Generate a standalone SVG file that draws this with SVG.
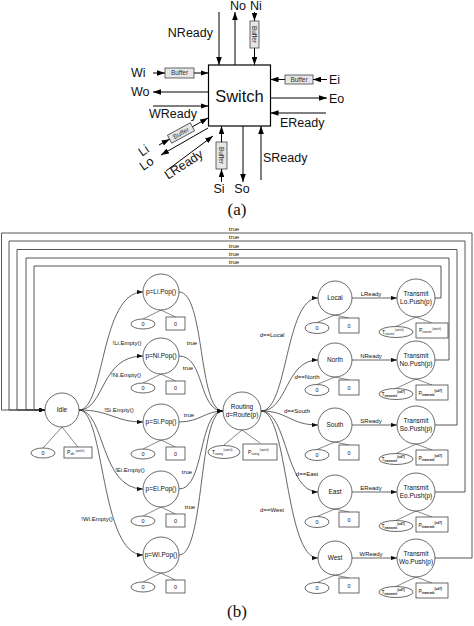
<svg xmlns="http://www.w3.org/2000/svg" width="474" height="626" viewBox="0 0 474 626">
<defs>
<marker id="a1" viewBox="0 0 10 7" refX="10" refY="3.5" markerWidth="8" markerHeight="5.6" markerUnits="userSpaceOnUse" orient="auto"><path d="M0,0 L10,3.5 L0,7 z" fill="#000"/></marker>
<marker id="a2" viewBox="0 0 10 7" refX="10" refY="3.5" markerWidth="6" markerHeight="4.2" markerUnits="userSpaceOnUse" orient="auto"><path d="M0,0 L10,3.5 L0,7 z" fill="#111"/></marker>
<style>
text{font-family:"Liberation Sans",Arial,sans-serif;fill:#111}
.A{font-size:12.5px}
.buf{fill:#e6e6e6;stroke:#444;stroke-width:0.8}
.bt{font-size:6.5px;text-anchor:middle;fill:#333}
.la{stroke:#000;stroke-width:1;fill:none;marker-end:url(#a1)}
.n{fill:#fff;stroke:#444;stroke-width:0.8}
.e{fill:none;stroke:#333;stroke-width:0.75;marker-end:url(#a2)}
.lp{fill:none;stroke:#444;stroke-width:0.9}
.c{stroke:#555;stroke-width:0.7}
.t{font-size:6.5px;text-anchor:middle}
.l{font-size:6px;text-anchor:middle}
.z{font-size:5.5px;text-anchor:middle}
.m{font-size:5px}
.s{font-size:2.6px}
.b{font-size:3.2px;font-weight:bold}
.cap{font-family:"Liberation Serif","Times New Roman",serif;font-size:17px;text-anchor:middle}
</style>
</defs>

<!-- ===== (a) switch ===== -->
<g id="switch">
<rect x="208.5" y="65" width="62" height="61" fill="#fff" stroke="#000" stroke-width="1.2"/>
<text x="239.5" y="102" font-size="16.5" text-anchor="middle">Switch</text>
</g>
<g id="buffers">
<rect class="buf" x="250" y="21" width="9" height="27"/>
<text class="bt" transform="translate(252.3,34.5) rotate(90)">Buffer</text>
<rect class="buf" x="165" y="68" width="29" height="10"/>
<text class="bt" x="179.5" y="75.3">Buffer</text>
<rect class="buf" x="285" y="75" width="28" height="9"/>
<text class="bt" x="299" y="81.8">Buffer</text>
<rect class="buf" x="216" y="142" width="11" height="27"/>
<text class="bt" transform="translate(219.3,155.5) rotate(90)">Buffer</text>
<g transform="translate(181,133) rotate(-28.5)">
<rect class="buf" x="-13" y="-4.5" width="26" height="9"/>
<text class="bt" x="0" y="2.3">Buffer</text>
</g>
</g>
<g id="a-connectors">
<line class="la" x1="235" y1="65" x2="235" y2="12"/>
<line class="la" x1="254.5" y1="12" x2="254.5" y2="21"/>
<line class="la" x1="254.5" y1="48" x2="254.5" y2="65"/>
<line class="la" x1="219" y1="12" x2="219" y2="65"/>
<line class="la" x1="153" y1="73" x2="165" y2="73"/>
<line class="la" x1="194" y1="73" x2="208.5" y2="73"/>
<line class="la" x1="208.5" y1="92" x2="153" y2="92"/>
<line class="la" x1="153" y1="106" x2="208.5" y2="106"/>
<line class="la" x1="159" y1="145" x2="169.6" y2="139.2"/>
<line class="la" x1="192.4" y1="126.8" x2="208" y2="118"/>
<line class="la" x1="208" y1="128" x2="161" y2="155"/>
<line class="la" x1="166" y1="171" x2="213" y2="136"/>
<line class="la" x1="327" y1="79.5" x2="313" y2="79.5"/>
<line class="la" x1="285" y1="79.5" x2="270.5" y2="79.5"/>
<line class="la" x1="270.5" y1="98" x2="327" y2="98"/>
<line class="la" x1="326" y1="113" x2="270.5" y2="113"/>
<line class="la" x1="221.5" y1="182" x2="221.5" y2="169"/>
<line class="la" x1="221.5" y1="142" x2="221.5" y2="126"/>
<line class="la" x1="243" y1="126" x2="243" y2="182"/>
<line class="la" x1="261" y1="180" x2="261" y2="126"/>
</g>
<g id="a-labels">
<text class="A" x="238" y="10" text-anchor="middle">No</text>
<text class="A" x="256" y="10" text-anchor="middle">Ni</text>
<text class="A" x="213" y="37" text-anchor="end">NReady</text>
<text class="A" x="131" y="77">Wi</text>
<text class="A" x="131" y="96">Wo</text>
<text class="A" x="149" y="118">WReady</text>
<text class="A" x="329" y="83.5">Ei</text>
<text class="A" x="329" y="102.5">Eo</text>
<text class="A" x="280" y="127">EReady</text>
<text class="A" x="219" y="193" text-anchor="middle">Si</text>
<text class="A" x="242" y="193" text-anchor="middle">So</text>
<text class="A" x="263" y="162">SReady</text>
<text class="A" text-anchor="middle" transform="translate(146,154) rotate(-35)">Li</text>
<text class="A" text-anchor="middle" transform="translate(149,167) rotate(-35)">Lo</text>
<text class="A" text-anchor="middle" transform="translate(186,168) rotate(-33)">LReady</text>
</g>
<text class="cap" x="237" y="215">(a)</text>

<!-- ===== (b) state machine ===== -->
<g id="connectors">
<!-- loops back to Idle -->
<path class="lp" d="M435,298 H441 V266 H34 V410 H45" marker-end="url(#a2)"/>
<path class="lp" d="M435,360 H449 V258 H26 V410 H45" marker-end="url(#a2)"/>
<path class="lp" d="M435,425 H457 V249.5 H17 V410 H45" marker-end="url(#a2)"/>
<path class="lp" d="M435,492 H465 V241 H9 V410 H45" marker-end="url(#a2)"/>
<path class="lp" d="M435,558 H472 V233 H1.5 V410 H45" marker-end="url(#a2)"/>
<!-- Idle to pops -->
<path class="e" d="M79,410 C105,410 100,292 143,292"/>
<path class="e" d="M79,410 C105,410 100,356 143,356"/>
<path class="e" d="M79,410 C110,410 115,422 143,422"/>
<path class="e" d="M79,410 C105,410 100,489 143,489"/>
<path class="e" d="M79,410 C105,410 100,555 143,555"/>
<!-- pops to Routing -->
<path class="e" d="M179,292 C205,292 198,411 223,411"/>
<path class="e" d="M179,356 C205,356 198,411 223,411"/>
<path class="e" d="M179,422 C200,422 205,411 223,411"/>
<path class="e" d="M179,489 C205,489 198,411 223,411"/>
<path class="e" d="M179,555 C205,555 198,411 223,411"/>
<!-- Routing to destinations -->
<path class="e" d="M261,411 C288,411 285,298 318,298"/>
<path class="e" d="M261,411 C288,411 285,360 318,360"/>
<path class="e" d="M261,411 C288,411 290,425 318,425"/>
<path class="e" d="M261,411 C288,411 285,492 318,492"/>
<path class="e" d="M261,411 C288,411 285,558 318,558"/>
<!-- destinations to transmit -->
<line class="e" x1="352" y1="298" x2="397" y2="298"/>
<line class="e" x1="352" y1="360" x2="397" y2="360"/>
<line class="e" x1="352" y1="425" x2="397" y2="425"/>
<line class="e" x1="352" y1="492" x2="397" y2="492"/>
<line class="e" x1="352" y1="558" x2="397" y2="558"/>
</g>

<g id="edge-labels">
<text class="l" x="234" y="231">true</text>
<text class="l" x="234" y="239">true</text>
<text class="l" x="234" y="247.5">true</text>
<text class="l" x="234" y="256">true</text>
<text class="l" x="234" y="264">true</text>
<text class="l" x="127" y="345">!Li.Empty()</text>
<text class="l" x="126" y="377">!Ni.Empty()</text>
<text class="l" x="119" y="412">!Si.Empty()</text>
<text class="l" x="130" y="472">!Ei.Empty()</text>
<text class="l" x="97" y="521">!Wi.Empty()</text>
<text class="l" x="192" y="345">true</text>
<text class="l" x="188" y="370">true</text>
<text class="l" x="189" y="417">true</text>
<text class="l" x="187" y="474">true</text>
<text class="l" x="190" y="509">true</text>
<text class="l" x="272" y="337">d==Local</text>
<text class="l" x="307" y="379">d==North</text>
<text class="l" x="297" y="413">d==South</text>
<text class="l" x="307" y="476">d==East</text>
<text class="l" x="272" y="512">d==West</text>
<text class="l" x="371" y="295.5">LReady</text>
<text class="l" x="371" y="357.5">NReady</text>
<text class="l" x="371" y="422.5">SReady</text>
<text class="l" x="371" y="489.5">EReady</text>
<text class="l" x="371" y="555.5">WReady</text>
</g>

<g id="idle">
<line class="c" x1="43" y1="448" x2="68.7" y2="419.7"/>
<line class="c" x1="78" y1="447" x2="56.4" y2="420"/>
<circle class="n" cx="62" cy="410" r="17"/>
<text class="t" x="62" y="412.3">Idle</text>
<ellipse class="n" cx="43" cy="453" rx="12" ry="5"/>
<text class="z" x="43" y="455">0</text>
<rect class="n" x="64" y="447" width="28" height="11"/>
<text class="m" x="67" y="454">P<tspan class="s" dy="1.2">idle</tspan><tspan class="s" dy="-3.4" dx="1">(switch)</tspan></text>
</g>

<g id="pop-li">
<line class="c" x1="143" y1="319" x2="167.3" y2="306.9"/>
<line class="c" x1="175.5" y1="317" x2="155.9" y2="307.6"/>
<circle class="n" cx="161" cy="292" r="18"/>
<text class="t" x="161" y="294.3">p=Li.Pop()</text>
<ellipse class="n" cx="143" cy="324" rx="12" ry="5"/>
<text class="z" x="143" y="326">0</text>
<rect class="n" x="166" y="317" width="19" height="13"/>
<text class="z" x="175.5" y="325.5">0</text>
</g>
<g id="pop-ni">
<line class="c" x1="143" y1="383" x2="167.3" y2="370.9"/>
<line class="c" x1="175.5" y1="381" x2="155.9" y2="371.6"/>
<circle class="n" cx="161" cy="356" r="18"/>
<text class="t" x="161" y="358.3">p=Ni.Pop()</text>
<ellipse class="n" cx="143" cy="388" rx="12" ry="5"/>
<text class="z" x="143" y="390">0</text>
<rect class="n" x="166" y="381" width="19" height="13"/>
<text class="z" x="175.5" y="389.5">0</text>
</g>
<g id="pop-si">
<line class="c" x1="143" y1="449" x2="167.3" y2="436.9"/>
<line class="c" x1="175.5" y1="447" x2="155.9" y2="437.6"/>
<circle class="n" cx="161" cy="422" r="18"/>
<text class="t" x="161" y="424.3">p=Si.Pop()</text>
<ellipse class="n" cx="143" cy="454" rx="12" ry="5"/>
<text class="z" x="143" y="456">0</text>
<rect class="n" x="166" y="447" width="19" height="13"/>
<text class="z" x="175.5" y="455.5">0</text>
</g>
<g id="pop-ei">
<line class="c" x1="143" y1="516" x2="167.3" y2="503.9"/>
<line class="c" x1="175.5" y1="514" x2="155.9" y2="504.6"/>
<circle class="n" cx="161" cy="489" r="18"/>
<text class="t" x="161" y="491.3">p=Ei.Pop()</text>
<ellipse class="n" cx="143" cy="521" rx="12" ry="5"/>
<text class="z" x="143" y="523">0</text>
<rect class="n" x="166" y="514" width="19" height="13"/>
<text class="z" x="175.5" y="522.5">0</text>
</g>
<g id="pop-wi">
<line class="c" x1="143" y1="582" x2="167.3" y2="569.9"/>
<line class="c" x1="175.5" y1="580" x2="155.9" y2="570.6"/>
<circle class="n" cx="161" cy="555" r="18"/>
<text class="t" x="161" y="557.3">p=Wi.Pop()</text>
<ellipse class="n" cx="143" cy="587" rx="12" ry="5"/>
<text class="z" x="143" y="589">0</text>
<rect class="n" x="166" y="580" width="19" height="13"/>
<text class="z" x="175.5" y="588.5">0</text>
</g>

<g id="routing">
<line class="c" x1="224" y1="445" x2="248.3" y2="424.8"/>
<line class="c" x1="260" y1="443" x2="235.7" y2="425.5"/>
<circle class="n" cx="242" cy="411" r="19"/>
<text class="t" x="242" y="409">Routing</text>
<text class="t" x="242" y="416.5">d=Route(p)</text>
<ellipse class="n" cx="224" cy="452" rx="16" ry="6.5"/>
<text class="m" x="212" y="453.5">T<tspan class="s" dy="1.2">routing</tspan><tspan class="s" dy="-3.4" dx="0.5">(switch)</tspan></text>
<rect class="n" x="243" y="444" width="34" height="16"/>
<text class="m" x="248" y="453.5">P<tspan class="s" dy="1.2">routing</tspan><tspan class="s" dy="-3.4" dx="0.5">(switch)</tspan></text>
</g>

<g id="dest-local">
<line class="c" x1="317" y1="322.5" x2="341.3" y2="312.4"/>
<line class="c" x1="349" y1="318" x2="330.1" y2="314"/>
<circle class="n" cx="335" cy="298" r="17"/>
<text class="t" x="335" y="300.3">Local</text>
<ellipse class="n" cx="317" cy="328" rx="12" ry="5.5"/>
<text class="z" x="317" y="330">0</text>
<rect class="n" x="339" y="318" width="20" height="15"/>
<text class="z" x="349" y="327.5">0</text>
</g>
<g id="dest-north">
<line class="c" x1="317" y1="384.5" x2="341.3" y2="374.4"/>
<line class="c" x1="349" y1="380" x2="330.1" y2="376"/>
<circle class="n" cx="335" cy="360" r="17"/>
<text class="t" x="335" y="362.3">North</text>
<ellipse class="n" cx="317" cy="390" rx="12" ry="5.5"/>
<text class="z" x="317" y="392">0</text>
<rect class="n" x="339" y="380" width="20" height="15"/>
<text class="z" x="349" y="389.5">0</text>
</g>
<g id="dest-south">
<line class="c" x1="317" y1="449.5" x2="341.3" y2="439.4"/>
<line class="c" x1="349" y1="445" x2="330.1" y2="441"/>
<circle class="n" cx="335" cy="425" r="17"/>
<text class="t" x="335" y="427.3">South</text>
<ellipse class="n" cx="317" cy="455" rx="12" ry="5.5"/>
<text class="z" x="317" y="457">0</text>
<rect class="n" x="339" y="445" width="20" height="15"/>
<text class="z" x="349" y="454.5">0</text>
</g>
<g id="dest-east">
<line class="c" x1="317" y1="516.5" x2="341.3" y2="506.4"/>
<line class="c" x1="349" y1="512" x2="330.1" y2="508"/>
<circle class="n" cx="335" cy="492" r="17"/>
<text class="t" x="335" y="494.3">East</text>
<ellipse class="n" cx="317" cy="522" rx="12" ry="5.5"/>
<text class="z" x="317" y="524">0</text>
<rect class="n" x="339" y="512" width="20" height="15"/>
<text class="z" x="349" y="521.5">0</text>
</g>
<g id="dest-west">
<line class="c" x1="317" y1="582.5" x2="341.3" y2="572.4"/>
<line class="c" x1="349" y1="578" x2="330.1" y2="574"/>
<circle class="n" cx="335" cy="558" r="17"/>
<text class="t" x="335" y="560.3">West</text>
<ellipse class="n" cx="317" cy="588" rx="12" ry="5.5"/>
<text class="z" x="317" y="590">0</text>
<rect class="n" x="339" y="578" width="20" height="15"/>
<text class="z" x="349" y="587.5">0</text>
</g>

<g id="transmit-lo">
<line class="c" x1="396" y1="326.5" x2="423" y2="313.7"/>
<line class="c" x1="432" y1="323" x2="410.4" y2="314.9"/>
<circle class="n" cx="416" cy="298" r="19"/>
<text class="t" x="416" y="296">Transmit</text>
<text class="t" x="416" y="303.5">Lo.Push(p)</text>
<ellipse class="n" cx="396" cy="332" rx="17" ry="5.5"/>
<text class="m" x="382" y="333.5">T<tspan class="s" dy="1.2">transmit</tspan><tspan class="s" dy="-3.4" dx="0.5">(switch)</tspan></text>
<rect class="n" x="416" y="323" width="32" height="15"/>
<text class="m" x="419" y="332">P<tspan class="s" dy="1.2">transmit</tspan><tspan class="s" dy="-3.4" dx="0.5">(switch)</tspan></text>
</g>
<g id="transmit-no">
<line class="c" x1="396" y1="388.5" x2="423" y2="375.7"/>
<line class="c" x1="432" y1="385" x2="410.4" y2="376.9"/>
<circle class="n" cx="416" cy="360" r="19"/>
<text class="t" x="416" y="358">Transmit</text>
<text class="t" x="416" y="365.5">No.Push(p)</text>
<ellipse class="n" cx="396" cy="394" rx="17" ry="5.5"/>
<text class="m" x="381.5" y="395.5">T<tspan class="b" dy="1.2">transmit</tspan><tspan class="b" dy="-3.4">(sd7)</tspan></text>
<rect class="n" x="416" y="385" width="32" height="15"/>
<text class="m" x="418.5" y="394.5">P<tspan class="b" dy="1.2">transmit</tspan><tspan class="b" dy="-3.4">(sd7)</tspan></text>
</g>
<g id="transmit-so">
<line class="c" x1="396" y1="453.5" x2="423" y2="440.7"/>
<line class="c" x1="432" y1="450" x2="410.4" y2="441.9"/>
<circle class="n" cx="416" cy="425" r="19"/>
<text class="t" x="416" y="423">Transmit</text>
<text class="t" x="416" y="430.5">So.Push(p)</text>
<ellipse class="n" cx="396" cy="459" rx="17" ry="5.5"/>
<text class="m" x="381.5" y="460.5">T<tspan class="b" dy="1.2">transmit</tspan><tspan class="b" dy="-3.4">(sd7)</tspan></text>
<rect class="n" x="416" y="450" width="32" height="15"/>
<text class="m" x="418.5" y="459.5">P<tspan class="b" dy="1.2">transmit</tspan><tspan class="b" dy="-3.4">(sd7)</tspan></text>
</g>
<g id="transmit-eo">
<line class="c" x1="396" y1="520.5" x2="423" y2="507.7"/>
<line class="c" x1="432" y1="517" x2="410.4" y2="508.9"/>
<circle class="n" cx="416" cy="492" r="19"/>
<text class="t" x="416" y="490">Transmit</text>
<text class="t" x="416" y="497.5">Eo.Push(p)</text>
<ellipse class="n" cx="396" cy="526" rx="17" ry="5.5"/>
<text class="m" x="381.5" y="527.5">T<tspan class="b" dy="1.2">transmit</tspan><tspan class="b" dy="-3.4">(sd7)</tspan></text>
<rect class="n" x="416" y="517" width="32" height="15"/>
<text class="m" x="418.5" y="526.5">P<tspan class="b" dy="1.2">transmit</tspan><tspan class="b" dy="-3.4">(sd7)</tspan></text>
</g>
<g id="transmit-wo">
<line class="c" x1="396" y1="586.5" x2="423" y2="573.7"/>
<line class="c" x1="432" y1="583" x2="410.4" y2="574.9"/>
<circle class="n" cx="416" cy="558" r="19"/>
<text class="t" x="416" y="556">Transmit</text>
<text class="t" x="416" y="563.5">Wo.Push(p)</text>
<ellipse class="n" cx="396" cy="592" rx="17" ry="5.5"/>
<text class="m" x="381.5" y="593.5">T<tspan class="b" dy="1.2">transmit</tspan><tspan class="b" dy="-3.4">(sd7)</tspan></text>
<rect class="n" x="416" y="583" width="32" height="15"/>
<text class="m" x="418.5" y="592.5">P<tspan class="b" dy="1.2">transmit</tspan><tspan class="b" dy="-3.4">(sd7)</tspan></text>
</g>

<text class="cap" x="237" y="617">(b)</text>
</svg>
